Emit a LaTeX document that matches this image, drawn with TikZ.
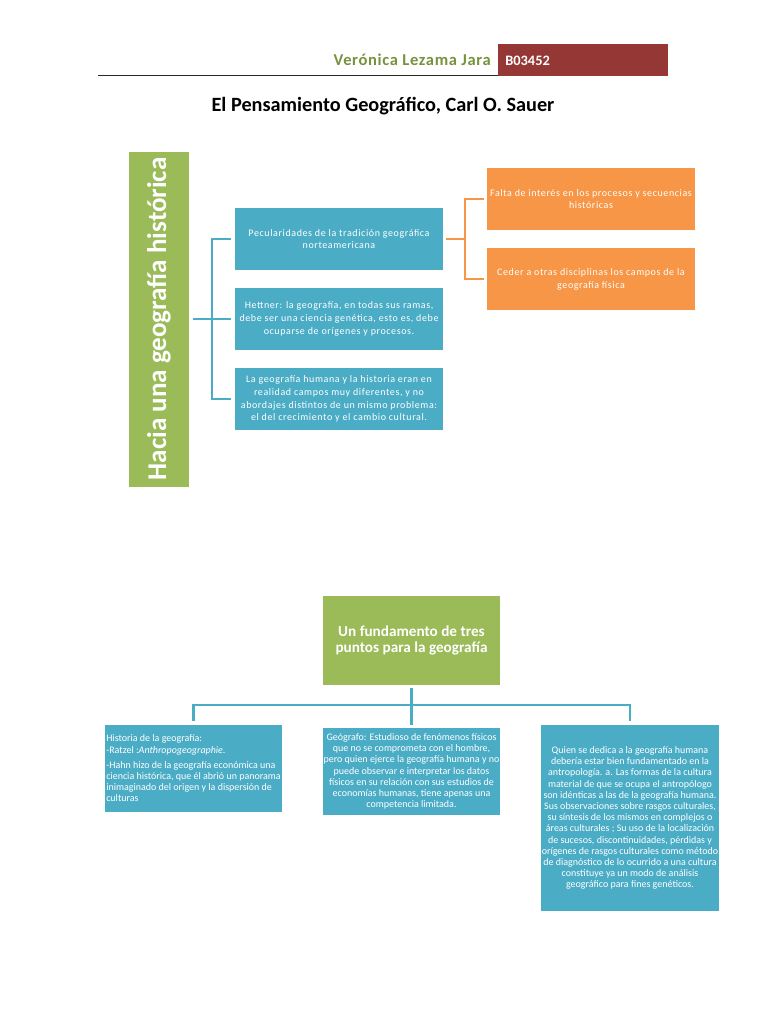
\documentclass[tikz,border=0pt]{standalone}
\usepackage{fontspec}
\setmainfont{Carlito}
\newfontfamily\spaced[LetterSpace=6]{Carlito}
\newfontfamily\namefont[LetterSpace=4]{Carlito}
\definecolor{tealbox}{RGB}{75,172,198}
\definecolor{orangebox}{RGB}{247,150,70}
\definecolor{greenbox}{RGB}{155,187,89}
\definecolor{redbox}{RGB}{149,55,53}
\definecolor{nametext}{RGB}{118,146,60}
\tikzset{
  box/.style={inner sep=0pt,text=white,align=center,font=\fontsize{7.5}{9.6}\spaced},
  tealtop/.style={box,fill=tealbox,minimum width=156pt,minimum height=46.5pt},
  orangetop/.style={box,fill=orangebox,minimum width=156pt,minimum height=46.5pt},
  tealbottom/.style={inner sep=0pt,text=white,align=center,fill=tealbox,minimum width=133pt,font=\fontsize{7.5}{8.4}\selectfont},
  tealconn/.style={draw=tealbox,line width=1.6pt},
  orangeconn/.style={draw=orangebox,line width=1.6pt},
}
\begin{document}
\begin{tikzpicture}[x=0.75pt,y=0.75pt,yscale=-1,xscale=1]
\useasboundingbox (0,0) rectangle (768,1024);

% header
\fill [redbox] (498,44) rectangle (668,76);
\draw [color={rgb, 255:red, 40; green, 40; blue, 40 }  ,line width=0.8] (98,75.5) -- (498,75.5);
\node [anchor=east,inner sep=0pt,text=nametext,font=\fontsize{12.4}{15}\namefont\bfseries] (author) at (491,60) {Verónica Lezama Jara};
\node [anchor=west,inner sep=0pt,text=white,font=\fontsize{10.8}{13}\bfseries\selectfont] (code) at (505,61) {B03452};
\node [font=\fontsize{15.2}{18}\bfseries\selectfont] (title) at (383,106) {El Pensamiento Geográfico, Carl O. Sauer};

% first map
\node [fill=greenbox,text=white,minimum width=335*0.75pt,minimum height=60*0.75pt,inner sep=0pt,rotate=90,font=\fontsize{20.3}{24}\bfseries\selectfont] (hacia) at (159,319) {Hacia una geografía histórica};
\node [tealtop] (peculiar) at (339,239) {Pecularidades de la tradición geográfica\\norteamericana};
\node [tealtop] (hettner) at (339,319) {Hettner: la geografía, en todas sus ramas,\\debe ser una ciencia genética, esto es, debe\\ocuparse de orígenes y procesos.};
\node [tealtop] (humana) at (339,399) {La geografía humana y la historia eran en\\realidad campos muy diferentes, y no\\abordajes distintos de un mismo problema:\\el del crecimiento y el cambio cultural.};
\node [orangetop] (falta) at (591,199) {Falta de interés en los procesos y secuencias\\históricas};
\node [orangetop] (ceder) at (591,279) {Ceder a otras disciplinas los campos de la\\geografía física};

\draw [tealconn,shorten <=3,shorten >=3] (hacia.south) -- (hettner.west);
\draw [tealconn,shorten >=3] (212,319) |- (peculiar.west);
\draw [tealconn,shorten >=3] (212,319) |- (humana.west);
\draw [orangeconn,shorten <=2] (peculiar.east) -- (465,239);
\draw [orangeconn,shorten >=2] (465,239) |- (falta.west);
\draw [orangeconn,shorten >=2] (465,239) |- (ceder.west);

% second map
\node [fill=greenbox,text=white,minimum width=177*0.75pt,minimum height=89*0.75pt,inner sep=0pt,align=center,font=\fontsize{11.4}{12.4}\bfseries\selectfont] (fundamento) at (411.5,640.5) {Un fundamento de tres\\puntos para la geografía};
\node [tealbottom,minimum height=87*0.75pt,align=left] (historia) at (193.5,768.5) {Historia de la geografía:\\-Ratzel :\textit{Anthropogeographie}.\\[3pt]-Hahn hizo de la geografía económica una\\ciencia histórica, que él abrió un panorama\\inimaginado del origen y la dispersión de\\culturas};
\node [tealbottom,minimum height=87*0.75pt] (geografo) at (411.5,771.5) {Geógrafo: Estudioso de fenómenos físicos\\que no se comprometa con el hombre,\\pero quien ejerce la geografía humana y no\\puede observar e interpretar los datos\\físicos en su relación con sus estudios de\\economías humanas, tiene apenas una\\competencia limitada.};
\node [tealbottom,minimum height=186*0.75pt] (quien) at (630,818) {Quien se dedica a la geografía humana\\debería estar bien fundamentado en la\\antropología. a. Las formas de la cultura\\material de que se ocupa el antropólogo\\son idénticas a las de la geografía humana.\\Sus observaciones sobre rasgos culturales,\\su síntesis de los mismos en complejos o\\áreas culturales ; Su uso de la localización\\de sucesos, discontinuidades, pérdidas y\\orígenes de rasgos culturales como método\\de diagnóstico de lo ocurrido a una cultura\\constituye ya un modo de análisis\\geográfico para fines genéticos.};

\draw [tealconn,shorten <=2,shorten >=2] (fundamento.south) -- (geografo.north);
\coordinate (branch) at (411.5,705);
\draw [tealconn,shorten >=3] (branch) -| (historia.north);
\draw [tealconn,shorten >=3] (branch) -| (quien.north);

\end{tikzpicture}
\end{document}
